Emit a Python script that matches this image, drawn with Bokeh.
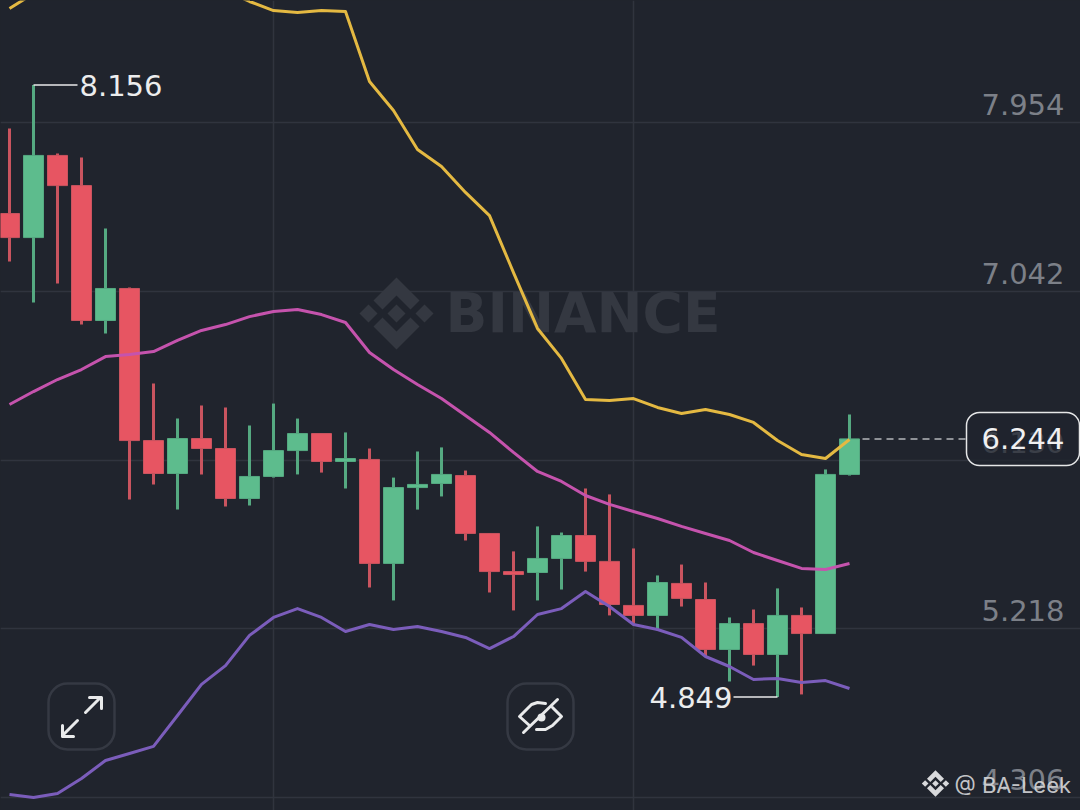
from bokeh.embed import file_html
from bokeh.resources import INLINE
from bokeh.plotting import figure
from bokeh.models import FixedTicker, BoxAnnotation, Range1d
from bokeh.core.properties import value

nan = float("nan")

# ---- data (prices) ----
candle_index = list(range(36))
high = [7.922, 8.156, 7.786, 7.765, 7.381, 7.062, 6.543, 6.354, 6.425, 6.414, 6.316, 6.435,
        6.354, 6.273, 6.279, 6.192, 6.035, 6.176, 6.198, 6.073, 5.733, 5.636, 5.771, 5.738,
        5.976, 5.944, 5.652, 5.506, 5.565, 5.468, 5.279, 5.322, 5.436, 5.333, 6.079, 6.376]
body_top = [7.462, 7.776, 7.776, 7.613, 7.057, 7.057, 6.235, 6.246, 6.246, 6.192, 6.041, 6.181,
            6.273, 6.273, 6.138, 6.133, 5.981, 5.998, 6.052, 6.046, 5.733, 5.527, 5.598, 5.722,
            5.722, 5.582, 5.344, 5.468, 5.463, 5.376, 5.246, 5.246, 5.290, 5.290, 6.052, 6.244]
body_bottom = [7.332, 7.332, 7.613, 6.884, 6.884, 6.235, 6.057, 6.057, 6.192, 5.922, 5.922, 6.041,
               6.181, 6.122, 6.122, 5.571, 5.571, 5.981, 6.003, 5.733, 5.527, 5.511, 5.522, 5.598,
               5.582, 5.349, 5.290, 5.290, 5.382, 5.106, 5.106, 5.079, 5.079, 5.192, 5.192, 6.052]
low = [7.203, 6.981, 7.084, 6.862, 6.814, 5.917, 5.998, 5.862, 6.052, 5.879, 5.884, 6.035,
       6.052, 6.062, 5.976, 5.441, 5.371, 5.862, 5.933, 5.695, 5.414, 5.317, 5.371, 5.430,
       5.527, 5.290, 5.246, 5.209, 5.338, 5.068, 4.933, 5.019, 4.849, 4.863, 5.192, 6.046]
direction = ["d", "u", "d", "d", "u", "d", "d", "u", "d", "d", "u", "u",
             "u", "d", "u", "d", "u", "u", "u", "d", "d", "d", "u", "u",
             "d", "d", "d", "u", "d", "d", "u", "d", "u", "d", "u", "u"]

band_upper = [8.570, 8.651, nan, nan, nan, nan, nan, nan, nan, 8.667, 8.608, 8.559,
              8.549, 8.559, 8.554, 8.176, 8.019, 7.808, 7.716, 7.576, 7.451, 7.143, 6.841, 6.679,
              6.457, 6.452, 6.462, 6.414, 6.381, 6.403, 6.376, 6.333, 6.235, 6.160, 6.138, 6.241]
band_middle = [6.430, 6.500, 6.565, 6.619, 6.689, 6.700, 6.716, 6.776, 6.830, 6.862, 6.905, 6.933,
               6.943, 6.916, 6.873, 6.711, 6.619, 6.538, 6.462, 6.371, 6.279, 6.171, 6.068, 6.014,
               5.938, 5.890, 5.852, 5.814, 5.771, 5.733, 5.695, 5.630, 5.587, 5.544, 5.538, 5.571]
band_lower = [4.322, 4.306, 4.328, 4.409, 4.506, 4.544, 4.582, 4.749, 4.917, 5.019, 5.182, 5.279,
              5.327, 5.279, 5.203, 5.241, 5.214, 5.230, 5.203, 5.171, 5.111, 5.176, 5.295, 5.327,
              5.419, 5.338, 5.241, 5.214, 5.171, 5.068, 5.014, 4.944, 4.949, 4.927, 4.938, 4.895]

y_ticks = [7.954, 7.042, 6.130, 5.218, 4.306]
y_tick_labels = ["7.954", "7.042", "6.130", "5.218", "4.306"]
x_ticks = [11, 26]
last_price = 6.244

# ---- styling ----
BG = "#20242d"
GRID = "#30343e"
RED, RED_W = "#e75562", "#c9545f"
GREEN, GREEN_W = "#5dbc8d", "#55a981"
FONT = value("DejaVu Sans")


def xp(px):
    return (px - 9) / 24


def yp(py):
    return 7.954 + (122 - py) * 0.912 / 168.75


p = figure(width=1080, height=810, output_backend="svg", toolbar_location=None,
           x_range=Range1d(xp(0), xp(1080)), y_range=Range1d(yp(810), yp(0)),
           background_fill_color=BG, border_fill_color=BG, outline_line_color=None,
           min_border=0, min_border_left=0, min_border_right=0, min_border_top=0, min_border_bottom=0)
p.xaxis.visible = False
p.yaxis.visible = False
p.xgrid.ticker = FixedTicker(ticks=x_ticks)
p.ygrid.ticker = FixedTicker(ticks=y_ticks)
p.xgrid.grid_line_color = GRID
p.ygrid.grid_line_color = GRID
p.xgrid.grid_line_width = 1.5
p.ygrid.grid_line_width = 1.5


def logo(cx, cy, s):
    shapes = [
        [(0, -36), (23, -13), (14, -4), (0, -18), (-14, -4), (-23, -13)],
        [(0, 36), (23, 13), (14, 4), (0, 18), (-14, 4), (-23, 13)],
        [(0, -9), (9, 0), (0, 9), (-9, 0)],
        [(-28, -9), (-19, 0), (-28, 9), (-37, 0)],
        [(28, -9), (37, 0), (28, 9), (19, 0)],
    ]
    return ([[xp(cx + s * a) for a, _ in sh] for sh in shapes],
            [[yp(cy + s * b) for _, b in sh] for sh in shapes])


# big watermark
xs, ys = logo(396, 313, 1.0)
p.patches(xs, ys, fill_color="#343841", line_color=None)
p.text([xp(445)], [yp(312)], text=["BINANCE"], text_font=value("DejaVu Sans"), text_font_style="bold",
       text_font_size="55px", text_color="#343841", text_baseline="middle", text_align="left")

# y tick labels
p.text([xp(1064)] * 5, y_ticks, text=y_tick_labels, text_font=FONT, text_font_size="29px",
       text_color="#7c8088", text_align="right", text_baseline="middle", y_offset=-18)

# candles
gi = [i for i, d in enumerate(direction) if d == "u"]
ri = [i for i, d in enumerate(direction) if d == "d"]
for idx, body, wick in ((gi, GREEN, GREEN_W), (ri, RED, RED_W)):
    xv = [candle_index[i] for i in idx]
    p.segment(xv, [high[i] for i in idx], xv, [low[i] for i in idx], line_color=wick, line_width=3)
    p.vbar(xv, width=20 / 24, top=[body_top[i] for i in idx], bottom=[body_bottom[i] for i in idx],
           fill_color=body, line_color=wick, line_width=1)

# bands
p.line(candle_index, band_upper, line_color="#e4b942", line_width=3, line_join="round")
p.line(candle_index, band_middle, line_color="#c553ad", line_width=3, line_join="round")
p.line(candle_index, band_lower, line_color="#7b5dbb", line_width=3, line_join="round")

# high/low callouts
i_hi = high.index(max(high))
i_lo = low.index(min(low))
p.line([i_hi, xp(77)], [high[i_hi]] * 2, line_color="#e8e9ea", line_width=1.5)
p.text([xp(79)], [high[i_hi]], text=["8.156"], text_font=FONT, text_font_size="29px", text_color="#eceded",
       text_align="left", text_baseline="middle")
p.line([xp(733), i_lo], [low[i_lo]] * 2, line_color="#e8e9ea", line_width=1.5)
p.text([xp(732)], [low[i_lo]], text=["4.849"], text_font=FONT, text_font_size="29px", text_color="#eceded",
       text_align="right", text_baseline="middle")

# last price
p.line([xp(862), xp(965)], [last_price] * 2, line_color="#b4b6ba", line_width=1.5, line_dash="7 5")
p.add_layout(BoxAnnotation(left=xp(966), right=xp(1079), top=yp(412), bottom=yp(465),
                           fill_color=BG, fill_alpha=0.7, line_color="#e6e7e8", line_alpha=1,
                           line_width=1.5, border_radius=13))
p.text([xp(1064)], [last_price], text=["6.244"], text_font=FONT, text_font_size="29px", text_color="#f0f0f1",
       text_align="right", text_baseline="middle", level="overlay")

# buttons
for left in (48, 507):
    p.add_layout(BoxAnnotation(left=xp(left), right=xp(left + 66), top=yp(683), bottom=yp(749),
                               fill_alpha=0, line_color="#353943", line_alpha=1, line_width=2.5,
                               border_radius=19))

ICON = "#e9eaeb"
arrow_paths = [
    [(85, 712), (100, 697)], [(89, 697), (101, 697), (101, 708)],
    [(77, 720), (62, 735)], [(62, 725), (62, 736), (73, 736)],
]
eye_paths = [
    [(545, 703), (537, 702), (531, 704), (519, 716), (529, 725)],
    [(552, 707), (561, 716), (552, 725), (545, 729), (536, 729)],
    [(523, 732), (557, 699)],
]
paths = arrow_paths + eye_paths
p.multi_line([[xp(a) for a, _ in path] for path in paths],
             [[yp(b) for _, b in path] for path in paths],
             line_color=ICON, line_width=3, line_cap="round", line_join="round")
p.scatter([xp(541)], [yp(717)], size=8, fill_color=ICON, line_color=None)

# small watermark
xs, ys = logo(935, 783, 0.37)
p.patches(xs, ys, fill_color="#d8d9db", line_color=None)
p.text([xp(954)], [yp(784)], text=["@ BA-Leek"], text_font=value("Inter"), text_font_size="22px",
       text_color="#d8d9db", text_align="left", text_baseline="middle", alpha=0.9)

html = file_html(p, INLINE).replace("<body>", '<body style="background:#20242d">')
open("out.html", "w").write(html)
